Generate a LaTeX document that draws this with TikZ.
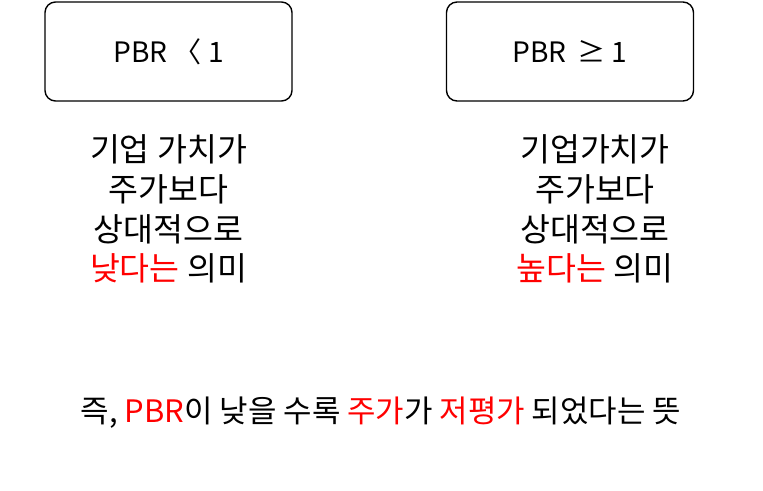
\documentclass[tikz,border=0pt]{standalone}
\usepackage{fontspec}
\setmainfont{Noto Sans CJK KR}
\usetikzlibrary{positioning}
\tikzset{
  pbrbox/.style={draw, thick, rounded corners=6pt, minimum width=4.94cm, minimum height=1.98cm, font=\fontsize{16}{19}\selectfont},
  meaning/.style={align=center, font=\fontsize{18.5}{22.7}\selectfont}
}
\begin{document}
\begin{tikzpicture}
    % canvas
    \useasboundingbox (0,0) rectangle (15.26,9.8);
    % boxes
    \node[pbrbox] (low) at (3.37,8.77) {PBR 〈 1};
    \node[pbrbox] (high) at (11.4,8.77) {PBR \,≥ 1};
    % meanings
    \node[meaning] (lowtext) at (3.37,5.62) {기업 가치가\\주가보다\\상대적으로\\\textcolor{red}{낮다는} 의미};
    \node[meaning] (hightext) at (11.9,5.62) {기업가치가\\주가보다\\상대적으로\\\textcolor{red}{높다는} 의미};
    % conclusion
    \node[font=\fontsize{17.6}{20}\selectfont] (summary) at (7.62,1.55) {즉, \textcolor{red}{PBR}이 낮을 수록 \textcolor{red}{주가}가 \textcolor{red}{저평가} 되었다는 뜻};
\end{tikzpicture}
\end{document}
